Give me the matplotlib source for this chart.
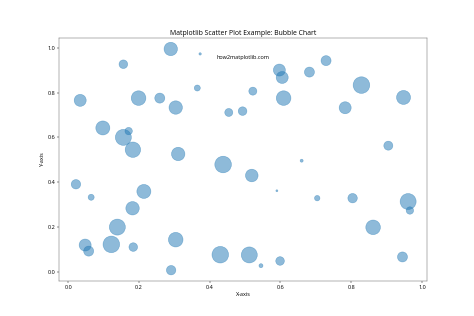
import matplotlib.pyplot as plt

# bubble positions
x = [0.290, 0.373, 0.156, 0.597, 0.605, 0.682, 0.729, 0.829, 0.948, 0.783,
     0.905, 0.660, 0.199, 0.259, 0.304, 0.365, 0.454, 0.493, 0.522, 0.609,
     0.034, 0.098, 0.156, 0.171, 0.183, 0.311, 0.438, 0.519, 0.590, 0.704,
     0.804, 0.961, 0.966, 0.862, 0.945, 0.304, 0.291, 0.430, 0.512, 0.545,
     0.599, 0.214, 0.022, 0.065, 0.182, 0.139, 0.048, 0.058, 0.122, 0.184]
y = [0.994, 0.972, 0.926, 0.900, 0.867, 0.891, 0.942, 0.833, 0.778, 0.732,
     0.563, 0.496, 0.775, 0.775, 0.733, 0.820, 0.711, 0.717, 0.806, 0.775,
     0.765, 0.642, 0.600, 0.628, 0.545, 0.526, 0.479, 0.430, 0.362, 0.329,
     0.329, 0.314, 0.274, 0.199, 0.067, 0.144, 0.008, 0.077, 0.076, 0.028,
     0.049, 0.359, 0.391, 0.333, 0.284, 0.200, 0.120, 0.093, 0.123, 0.111]
sizes = [597, 19, 246, 479, 479, 333, 333, 916, 652, 479,
         269, 30, 709, 333, 597, 120, 213, 246, 213, 709,
         479, 652, 851, 182, 789, 597, 916, 528, 13, 97,
         294, 851, 182, 709, 333, 709, 294, 916, 851, 53,
         246, 652, 294, 120, 597, 851, 479, 333, 916, 246]

plt.rcParams['font.family'] = ['Open Sans', 'DejaVu Sans']

fig = plt.figure(figsize=(12, 8), dpi=39.5)
ax = fig.add_subplot(111)

ax.scatter(x, y, s=sizes, alpha=0.5, color='#1f77b4')
ax.text(0.5, 0.92, 'how2matplotlib.com', transform=ax.transAxes,
        ha='center', va='center', fontsize=10)

ax.set_title('Matplotlib Scatter Plot Example: Bubble Chart', fontsize=12.5)
ax.set_xlabel('X-axis', fontsize=10)
ax.set_ylabel('Y-axis', fontsize=10)
ax.tick_params(labelsize=10)
for sp in ax.spines.values():
    sp.set_color('#555555')

fig.savefig('out.png', dpi=39.5)
